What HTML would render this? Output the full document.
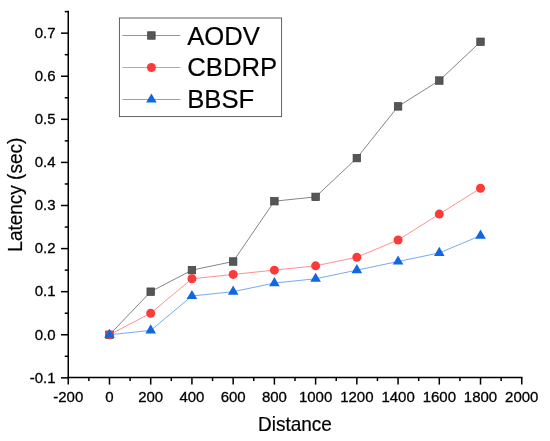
<!DOCTYPE html>
<html><head><meta charset="utf-8"><title>Latency vs Distance</title>
<style>html,body{margin:0;padding:0;background:#fff;}svg{display:block;}text{font-family:"Liberation Sans",Arial,sans-serif;fill:#000;stroke:#000;}</style></head><body>
<svg width="550" height="441" viewBox="0 0 550 441">
<rect width="550" height="441" fill="#fff"/>
<g stroke="#000" stroke-width="1.5" fill="none" stroke-linecap="butt">
<path d="M68.25 10.85 V378.35"/>
<path d="M67.5 377.6 H522.5"/>
<path d="M68.25 377.6 V384.6"/>
<path d="M88.86 377.6 V381.1"/>
<path d="M109.48 377.6 V384.6"/>
<path d="M130.09 377.6 V381.1"/>
<path d="M150.70 377.6 V384.6"/>
<path d="M171.32 377.6 V381.1"/>
<path d="M191.93 377.6 V384.6"/>
<path d="M212.55 377.6 V381.1"/>
<path d="M233.16 377.6 V384.6"/>
<path d="M253.77 377.6 V381.1"/>
<path d="M274.39 377.6 V384.6"/>
<path d="M295.00 377.6 V381.1"/>
<path d="M315.61 377.6 V384.6"/>
<path d="M336.23 377.6 V381.1"/>
<path d="M356.84 377.6 V384.6"/>
<path d="M377.45 377.6 V381.1"/>
<path d="M398.07 377.6 V384.6"/>
<path d="M418.68 377.6 V381.1"/>
<path d="M439.30 377.6 V384.6"/>
<path d="M459.91 377.6 V381.1"/>
<path d="M480.52 377.6 V384.6"/>
<path d="M501.14 377.6 V381.1"/>
<path d="M521.75 377.6 V384.6"/>
<path d="M68.25 377.85 H61.0"/>
<path d="M68.25 356.31 H64.75"/>
<path d="M68.25 334.76 H61.0"/>
<path d="M68.25 313.22 H64.75"/>
<path d="M68.25 291.68 H61.0"/>
<path d="M68.25 270.13 H64.75"/>
<path d="M68.25 248.59 H61.0"/>
<path d="M68.25 227.04 H64.75"/>
<path d="M68.25 205.50 H61.0"/>
<path d="M68.25 183.96 H64.75"/>
<path d="M68.25 162.41 H61.0"/>
<path d="M68.25 140.87 H64.75"/>
<path d="M68.25 119.32 H61.0"/>
<path d="M68.25 97.78 H64.75"/>
<path d="M68.25 76.24 H61.0"/>
<path d="M68.25 54.69 H64.75"/>
<path d="M68.25 33.15 H61.0"/>
<path d="M68.25 11.61 H64.75"/>
</g>
<g font-size="15" text-anchor="middle" stroke-width="0.3">
<text transform="translate(68.25 401.9) scale(1 1.03)">-200</text>
<text transform="translate(109.48 401.9) scale(1 1.03)">0</text>
<text transform="translate(150.70 401.9) scale(1 1.03)">200</text>
<text transform="translate(191.93 401.9) scale(1 1.03)">400</text>
<text transform="translate(233.16 401.9) scale(1 1.03)">600</text>
<text transform="translate(274.39 401.9) scale(1 1.03)">800</text>
<text transform="translate(315.61 401.9) scale(1 1.03)">1000</text>
<text transform="translate(356.84 401.9) scale(1 1.03)">1200</text>
<text transform="translate(398.07 401.9) scale(1 1.03)">1400</text>
<text transform="translate(439.30 401.9) scale(1 1.03)">1600</text>
<text transform="translate(480.52 401.9) scale(1 1.03)">1800</text>
<text transform="translate(521.75 401.9) scale(1 1.03)">2000</text>
</g>
<g font-size="15" text-anchor="end" stroke-width="0.3">
<text transform="translate(55.6 382.65) scale(1 1.03)">-0.1</text>
<text transform="translate(55.6 339.56) scale(1 1.03)">0.0</text>
<text transform="translate(55.6 296.48) scale(1 1.03)">0.1</text>
<text transform="translate(55.6 253.39) scale(1 1.03)">0.2</text>
<text transform="translate(55.6 210.30) scale(1 1.03)">0.3</text>
<text transform="translate(55.6 167.21) scale(1 1.03)">0.4</text>
<text transform="translate(55.6 124.12) scale(1 1.03)">0.5</text>
<text transform="translate(55.6 81.04) scale(1 1.03)">0.6</text>
<text transform="translate(55.6 37.95) scale(1 1.03)">0.7</text>
</g>
<text stroke-width="0.18" transform="translate(295 431.4) scale(1 1.03)" font-size="19" text-anchor="middle">Distance</text>
<text stroke-width="0.18" transform="translate(21.7 194.7) rotate(-90) scale(1 1.03)" font-size="19" text-anchor="middle">Latency (sec)</text>
<polyline points="109.48,334.76 150.70,291.68 191.93,270.13 233.16,261.51 274.39,201.19 315.61,196.88 356.84,158.10 398.07,106.40 439.30,80.55 480.52,41.77" fill="none" stroke="#555555" stroke-width="0.72"/>
<rect x="105.73" y="331.01" width="7.5" height="7.5" fill="#565656" stroke="#3e3e3e" stroke-width="0.7"/>
<rect x="146.95" y="287.93" width="7.5" height="7.5" fill="#565656" stroke="#3e3e3e" stroke-width="0.7"/>
<rect x="188.18" y="266.38" width="7.5" height="7.5" fill="#565656" stroke="#3e3e3e" stroke-width="0.7"/>
<rect x="229.41" y="257.76" width="7.5" height="7.5" fill="#565656" stroke="#3e3e3e" stroke-width="0.7"/>
<rect x="270.64" y="197.44" width="7.5" height="7.5" fill="#565656" stroke="#3e3e3e" stroke-width="0.7"/>
<rect x="311.86" y="193.13" width="7.5" height="7.5" fill="#565656" stroke="#3e3e3e" stroke-width="0.7"/>
<rect x="353.09" y="154.35" width="7.5" height="7.5" fill="#565656" stroke="#3e3e3e" stroke-width="0.7"/>
<rect x="394.32" y="102.65" width="7.5" height="7.5" fill="#565656" stroke="#3e3e3e" stroke-width="0.7"/>
<rect x="435.55" y="76.80" width="7.5" height="7.5" fill="#565656" stroke="#3e3e3e" stroke-width="0.7"/>
<rect x="476.77" y="38.02" width="7.5" height="7.5" fill="#565656" stroke="#3e3e3e" stroke-width="0.7"/>
<polyline points="109.48,334.76 150.70,313.22 191.93,278.75 233.16,274.44 274.39,270.13 315.61,265.82 356.84,257.20 398.07,239.97 439.30,214.12 480.52,188.26" fill="none" stroke="#fd6666" stroke-width="0.72"/>
<circle cx="109.48" cy="334.76" r="4.5" fill="#fd3a3a"/>
<circle cx="150.70" cy="313.22" r="4.5" fill="#fd3a3a"/>
<circle cx="191.93" cy="278.75" r="4.5" fill="#fd3a3a"/>
<circle cx="233.16" cy="274.44" r="4.5" fill="#fd3a3a"/>
<circle cx="274.39" cy="270.13" r="4.5" fill="#fd3a3a"/>
<circle cx="315.61" cy="265.82" r="4.5" fill="#fd3a3a"/>
<circle cx="356.84" cy="257.20" r="4.5" fill="#fd3a3a"/>
<circle cx="398.07" cy="239.97" r="4.5" fill="#fd3a3a"/>
<circle cx="439.30" cy="214.12" r="4.5" fill="#fd3a3a"/>
<circle cx="480.52" cy="188.26" r="4.5" fill="#fd3a3a"/>
<polyline points="109.48,334.76 150.70,330.45 191.93,295.98 233.16,291.68 274.39,283.06 315.61,278.75 356.84,270.13 398.07,261.51 439.30,252.90 480.52,235.66" fill="none" stroke="#4188ea" stroke-width="0.72"/>
<path d="M109.48 328.66 L114.78 337.86 H104.18 Z" fill="#1067e0"/>
<path d="M150.70 324.35 L156.00 333.55 H145.40 Z" fill="#1067e0"/>
<path d="M191.93 289.88 L197.23 299.08 H186.63 Z" fill="#1067e0"/>
<path d="M233.16 285.57 L238.46 294.78 H227.86 Z" fill="#1067e0"/>
<path d="M274.39 276.96 L279.69 286.16 H269.09 Z" fill="#1067e0"/>
<path d="M315.61 272.65 L320.91 281.85 H310.31 Z" fill="#1067e0"/>
<path d="M356.84 264.03 L362.14 273.23 H351.54 Z" fill="#1067e0"/>
<path d="M398.07 255.41 L403.37 264.61 H392.77 Z" fill="#1067e0"/>
<path d="M439.30 246.80 L444.60 256.00 H434.00 Z" fill="#1067e0"/>
<path d="M480.52 229.56 L485.82 238.76 H475.22 Z" fill="#1067e0"/>
<rect x="119.4" y="18" width="162.2" height="98.6" fill="#fff" stroke="#505050" stroke-width="0.9"/>
<path d="M122.4 35.5 H180.4" stroke="#979797" stroke-width="1" fill="none"/>
<rect x="147.65" y="31.75" width="7.5" height="7.5" fill="#565656" stroke="#3e3e3e" stroke-width="0.7"/>
<text stroke-width="0.18" transform="translate(187.2 44.7) scale(1 1.015)" font-size="25.7">AODV</text>
<path d="M122.4 67.5 H180.4" stroke="#ff8c8c" stroke-width="1" fill="none"/>
<circle cx="151.40" cy="67.50" r="4.5" fill="#fd3a3a"/>
<text stroke-width="0.18" transform="translate(187.2 76.3) scale(1 1.015)" font-size="25.7">CBDRP</text>
<path d="M122.4 99.5 H180.4" stroke="#6ea8f5" stroke-width="1" fill="none"/>
<path d="M151.40 93.40 L156.70 102.60 H146.10 Z" fill="#1067e0"/>
<text stroke-width="0.18" transform="translate(187.2 107.9) scale(1 1.015)" font-size="25.7">BBSF</text>
</svg></body></html>
